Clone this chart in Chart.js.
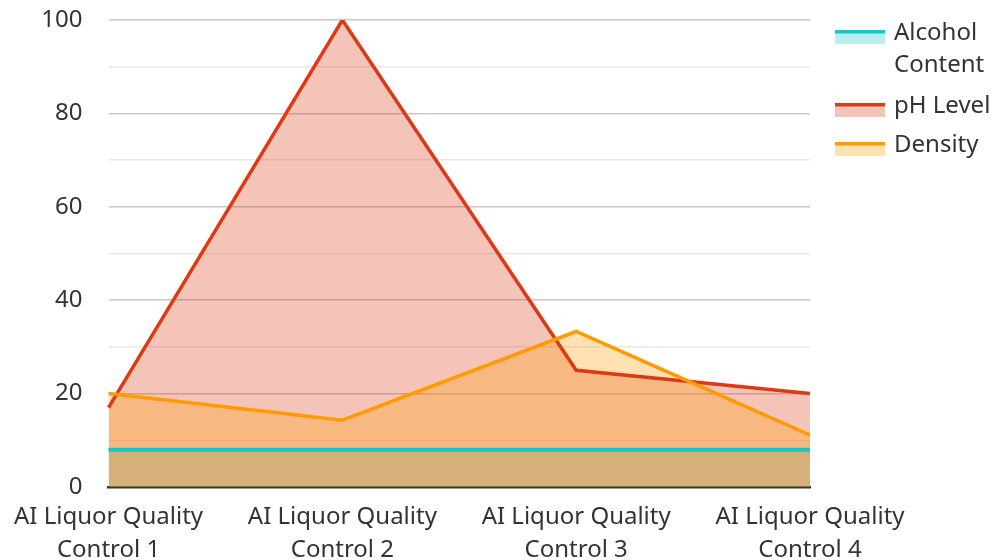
<!DOCTYPE html>
<html>
<head>
<meta charset="utf-8">
<script src="https://cdn.jsdelivr.net/npm/chart.js@4"></script>
<style>
  html, body { margin: 0; padding: 0; background: #fff; }
  #wrap { width: 996px; height: 560px; }
</style>
</head>
<body>
<div id="wrap"><canvas id="chart"></canvas></div>
<script>
const categories = [
  ["AI Liquor Quality", "Control 1"],
  ["AI Liquor Quality", "Control 2"],
  ["AI Liquor Quality", "Control 3"],
  ["AI Liquor Quality", "Control 4"],
];
const alcoholContent = [8, 8, 8, 8];
const phLevel = [17, 100, 25, 20];
const density = [20, 14.3, 33.3, 11.1];

const seriesNames = [["Alcohol", "Content"], ["pH Level"], ["Density"]];
const lineColors = ["#12c9c9", "#dd3a14", "#ff9a00"];
const fillColors = ["rgba(18,201,201,0.3)", "rgba(221,58,20,0.3)", "rgba(255,154,0,0.3)"];

const FONT = "'Noto Sans', 'Open Sans', sans-serif";
Chart.defaults.font.family = FONT;
Chart.defaults.color = "#333";

// legend drawn by hand so the first label can wrap onto two lines
const sideLegend = {
  id: "sideLegend",
  afterDraw(chart) {
    const ctx = chart.ctx;
    const x = chart.chartArea.right + 25;
    const tops = [30, 103, 142];
    ctx.save();
    ctx.font = "24px " + FONT;
    ctx.textBaseline = "middle";
    ctx.textAlign = "left";
    seriesNames.forEach((lines, i) => {
      const y = tops[i];
      ctx.fillStyle = fillColors[i];
      ctx.fillRect(x, y, 50, 14);
      ctx.fillStyle = lineColors[i];
      ctx.fillRect(x, y, 50, 3.5);
      ctx.fillStyle = "#333";
      lines.forEach((t, j) => ctx.fillText(t, x + 59, y + 3 + j * 32));
    });
    ctx.restore();
  },
};

new Chart(document.getElementById("chart"), {
  type: "line",
  data: {
    labels: categories,
    datasets: [alcoholContent, phLevel, density].map((vals, i) => ({
      label: seriesNames[i].join(" "),
      data: vals,
      order: 3 - i, // alcohol fill sits at the bottom of the stack
      borderColor: lineColors[i],
      backgroundColor: fillColors[i],
      borderWidth: i === 0 ? 4 : 3.5,
      fill: "origin",
      tension: 0,
      pointRadius: 0,
    })),
  },
  options: {
    responsive: true,
    maintainAspectRatio: false,
    animation: false,
    layout: { padding: { top: 0, right: 186, left: 0, bottom: 0 } },
    plugins: {
      legend: { display: false },
      tooltip: { enabled: false },
      filler: { drawTime: "beforeDatasetsDraw" },
    },
    scales: {
      x: {
        offset: false,
        afterFit(scale) {
          scale.height = 73;
          scale.paddingTop = 0;
        },
        grid: { display: false, drawTicks: false },
        border: { display: true, color: "#333", width: 2.5 },
        ticks: { font: { size: 24, lineHeight: 1.36 }, padding: 14, maxRotation: 0, autoSkip: false },
      },
      y: {
        min: 0,
        max: 100,
        afterFit(scale) {
          scale.width = 108;
          scale.paddingTop = 20;
        },
        border: { display: false },
        grid: {
          drawTicks: false,
          lineWidth: 1.5,
          color: (c) => (c.tick && c.tick.value % 20 === 0 ? "#c8c8c8" : "#e8e8e8"),
        },
        ticks: {
          stepSize: 10,
          padding: 26,
          font: { size: 24 },
          callback: (v) => (v % 20 === 0 ? v : ""),
        },
      },
    },
  },
  plugins: [sideLegend],
});
</script>
</body>
</html>
